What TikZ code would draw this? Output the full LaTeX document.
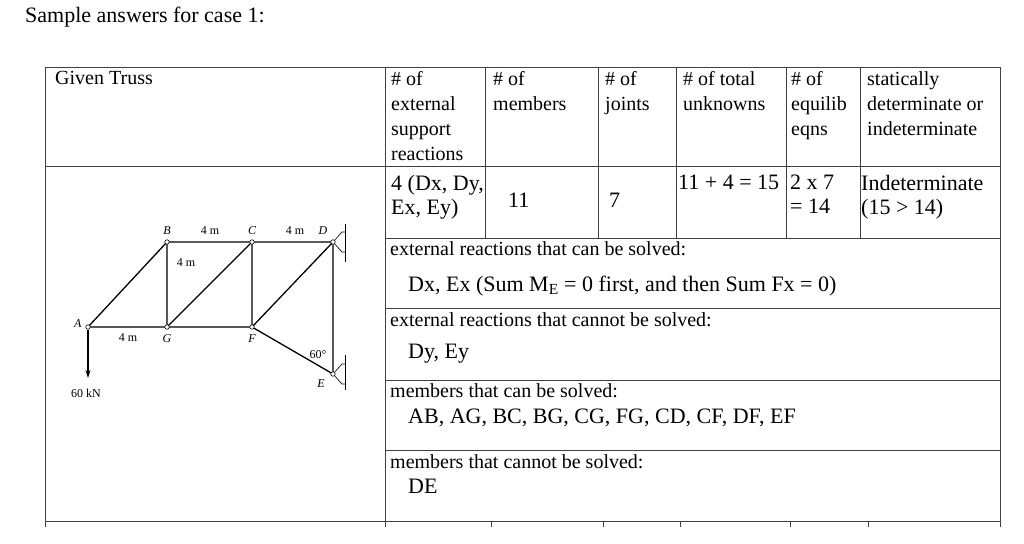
\documentclass[tikz,border=0pt]{standalone}
\usepackage{fontspec}
\setmainfont{Liberation Serif}
\usetikzlibrary{arrows.meta}
\begin{document}
\begin{tikzpicture}[x=1pt,y=-1pt,
  grid/.style={line width=0.8pt,draw=black!75},
  mem/.style={line width=1.3pt},
  jt/.style={circle,draw,fill=white,inner sep=1.6pt,line width=0.6pt},
  lab/.style={font=\fontsize{12}{14}\selectfont\itshape},
  dim/.style={font=\fontsize{12}{14}\selectfont},
  hd/.style={anchor=north west,align=left,font=\fontsize{20}{25}\selectfont,inner sep=0pt},
  big/.style={anchor=north west,align=left,font=\fontsize{22}{24}\selectfont,inner sep=0pt}]
\useasboundingbox (0,0) rectangle (1024,543);
\node[anchor=north west,inner sep=0pt,font=\fontsize{22}{24}\selectfont] (title) at (25,7) {Sample answers for case 1:};
% table
\draw[grid] (45,67) -- (1000,67);
\draw[grid] (45,166) -- (1000,166);
\draw[grid] (45,521) -- (1000,521);
\foreach \y in {238,308,380,450} \draw[grid] (385,\y) -- (1000,\y);
\draw[grid] (45,67) -- (45,527);
\draw[grid] (385,67) -- (385,527);
\draw[grid] (1000,67) -- (1000,527);
\foreach \x in {485,598,676,786,860} \draw[grid] (\x,67) -- (\x,238);
\foreach \x in {491,603,680,790,868} \draw[grid] (\x,521) -- (\x,527);
\node[hd] (h0) at (55,71) {Given Truss};
\node[hd] (h1) at (391,71) {\# of\\external\\support\\reactions};
\node[hd] (h2) at (493,71) {\# of\\members};
\node[hd] (h3) at (605,71) {\# of\\joints};
\node[hd] (h4) at (683,71) {\# of total\\unknowns};
\node[hd] (h5) at (791,71) {\# of\\equilib\\eqns};
\node[hd] (h6) at (867,71) {statically\\determinate or\\indeterminate};
\node[big] (c1) at (391,175) {4 (Dx, Dy,\\Ex, Ey)};
\node[big] (c2) at (508,193) {11};
\node[big] (c3) at (609,193) {7};
\node[big] (c4) at (678,175) {11 + 4 = 15};
\node[big] (c5) at (790,175) {2 x 7\\= 14};
\node[big] (c6) at (861,175) {Indeterminate\\(15 > 14)};
\node[hd] (r1) at (390,241) {external reactions that can be solved:};
\node[big] (r1a) at (408,276) {Dx, Ex (Sum M\textsubscript{E} = 0 first, and then Sum Fx = 0)};
\node[hd] (r2) at (390,312) {external reactions that cannot be solved:};
\node[big] (r2a) at (408,344) {Dy, Ey};
\node[hd] (r3) at (390,383) {members that can be solved:};
\node[big] (r3a) at (408,409) {AB, AG, BC, BG, CG, FG, CD, CF, DF, EF};
\node[hd] (r4) at (390,454) {members that cannot be solved:};
\node[big] (r4a) at (408,479) {DE};
% truss
\coordinate (A) at (88,327); \coordinate (B) at (167,242); \coordinate (C) at (252,242);
\coordinate (D) at (333,242); \coordinate (G) at (167,327); \coordinate (F) at (252,327);
\coordinate (E) at (333,374);
\draw[mem] (A)--(B)--(C)--(D)--(E)--(F)--(G)--(A);
\draw[mem] (B)--(G)--(C)--(F)--(D);
% supports
\draw[line width=0.6pt] (345,224) -- (345,262);
\draw[line width=0.6pt] (333,242) -- (342,232) -- (345,232); \draw[line width=0.6pt] (333,242) -- (342,252) -- (345,252);
\draw[line width=0.6pt] (345,355) -- (345,390);
\draw[line width=0.6pt] (333,374) -- (342,364) -- (345,364); \draw[line width=0.6pt] (333,374) -- (342,384) -- (345,384);
\foreach \n in {A,B,C,D,G,F,E} \node[jt] (j\n) at (\n) {};
\draw[line width=1.2pt,-{Stealth[length=8pt,width=5pt]}] (jA) -- (88,378) coordinate (Ld);
\node[dim] (load) at (86,393) {60 kN};
\node[lab,anchor=east] (lA) at (85,324) {A};
\node[lab] (lB) at (167,231) {B};
\node[lab] (lC) at (252,231) {C};
\node[lab] (lD) at (323,231) {D};
\node[lab] (lG) at (167,339) {G};
\node[lab] (lF) at (252,339) {F};
\node[lab] (lE) at (321,384) {E};
\node[dim] (d1) at (210,231) {4 m};
\node[dim] (d2) at (295,231) {4 m};
\node[dim] (d3) at (186,263) {4 m};
\node[dim] (d4) at (128,338) {4 m};
\node[dim] (ang) at (318,355) {60\textdegree};
\end{tikzpicture}
\end{document}
